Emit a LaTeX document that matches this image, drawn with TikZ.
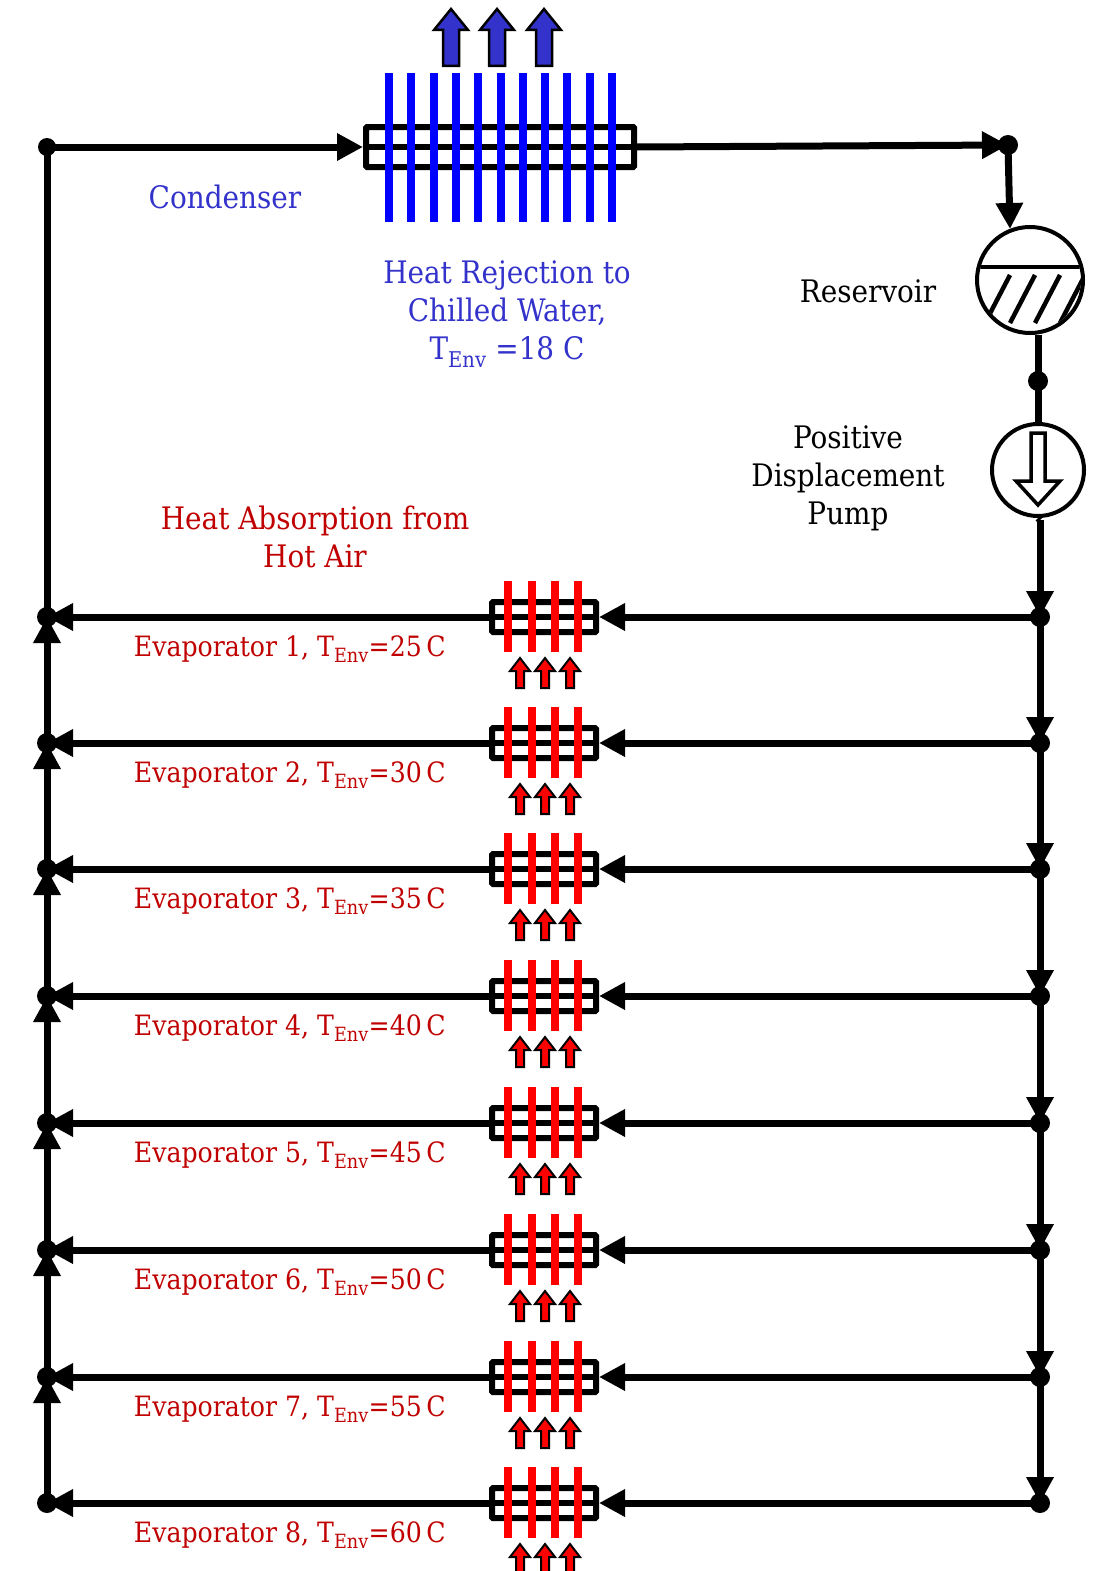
\documentclass[tikz,border=0pt]{standalone}
\usepackage{fontspec}
\setmainfont{DejaVu Serif Condensed}
\usetikzlibrary{arrows.meta,patterns}
\definecolor{cblue}{RGB}{51,51,204}
\definecolor{bbar}{RGB}{0,0,255}
\definecolor{dred}{RGB}{192,0,0}
\tikzset{
 pipe/.style={line width=7pt},
 tip/.style={-{Triangle[length=26pt 0,width=26pt 0]}},
 dot/.style={circle,fill=black,inner sep=0pt,minimum size=20pt},
 lbl/.style={font=\fontsize{28}{38}\selectfont,align=center,inner sep=0pt},
 big/.style={font=\fontsize{31}{38}\selectfont},
 hxbox/.style={draw,line width=6pt,inner sep=0pt,rounded corners=1pt},
}
\begin{document}
\begin{tikzpicture}[x=1pt,y=-1pt]
\useasboundingbox (0,0) rectangle (1101,1571);
% condenser
\node[hxbox,minimum width=268pt,minimum height=40pt] (cond) at (500,147) {};
\draw[line width=6pt] (cond.west) -- (cond.east);
\foreach \i in {0,...,10} \fill[bbar] ({389+22.3*\i-4},73) rectangle ({389+22.3*\i+4},222);
\foreach \x in {451,497,544}
 \draw[fill=cblue,line width=2.5pt,line join=miter] (\x-8,66) -- (\x-8,30) -- (\x-17,30) -- (\x,9) -- (\x+17,30) -- (\x+8,30) -- (\x+8,66) -- cycle;
\node[dot,minimum size=18pt] (tl) at (47,147) {};
\node[dot] (tr) at (1008,145) {};
\draw[pipe,tip] (tl.center) -- (cond.west);
\draw[pipe,tip] (cond.east) -- (tr.center);
% reservoir
\node[circle,draw,line width=4pt,minimum size=106pt,inner sep=0pt] (res) at (1030,280) {};
\begin{scope}
\clip (1030,280) circle (51);
\draw[line width=4pt] (970,267) -- (1090,267);
\foreach \k in {0,1,2,3} \draw[line width=4.5pt] ({985+25*\k},323) -- ({1010+25*\k},275);
\end{scope}
\draw[pipe,tip] (tr.center) -- (1010,229);
% pump
\node[dot,minimum size=20pt] (pd) at (1038,381) {};
\node[circle,draw,line width=4pt,minimum size=92pt,inner sep=0pt] (pump) at (1038,470) {};
\draw[pipe] (res.south) ++(8,0) -- (pd.center) -- (pump.north);
\draw[line width=3.5pt,line join=miter,fill=white] (1031,433) -- (1045,433) -- (1045,481) -- (1060,481) -- (1038,505) -- (1016,481) -- (1031,481) -- cycle;
% labels top
\node[lbl,big,text=cblue] at (225,197) {Condenser};
\node[lbl,big,text=cblue] at (507,314) {Heat Rejection to\\Chilled Water,\\T\textsubscript{Env} =18 C};
\node[lbl,big] at (868,291) {Reservoir};
\node[lbl,big] at (848,478) {Positive\\Displacement\\Pump};
\node[lbl,big,text=dred] at (315,537) {Heat Absorption from\\Hot Air};
% evaporators
\foreach \n/\y/\t in {1/617/25,2/743/30,3/869/35,4/996/40,5/1123/45,6/1250/50,7/1377/55,8/1503/60}{
 \node[dot] (R\n) at (1040,\y) {};
 \node[dot] (L\n) at (47,\y) {};
 \node[hxbox,minimum width=104pt,minimum height=30pt] (E\n) at (544,\y) {};
 \draw[line width=6pt] (E\n.west) -- (E\n.east);
 \foreach \x in {508,532,555,578} \fill[red] (\x-4,\y-36) rectangle (\x+4,\y+35);
 \foreach \x in {520,545,570}
  \draw[fill=red,line width=2pt,line join=miter] (\x-4,\y+71) -- (\x-4,\y+54) -- (\x-10,\y+54) -- (\x,\y+41) -- (\x+10,\y+54) -- (\x+4,\y+54) -- (\x+4,\y+71) -- cycle;
 \draw[pipe,tip] (R\n.center) -- (E\n.east);
 \draw[pipe,tip] (E\n.west) -- (L\n.center);
 \node[lbl,text=dred,anchor=east] at (446,\y+32) {Evaporator \n, T\textsubscript{Env}=\t\,C};
}
\draw[pipe] (pump.south) -- (1040,520);
\draw[pipe,tip] (1040,520) -- (R1.center);
\foreach \a/\b in {1/2,2/3,3/4,4/5,5/6,6/7,7/8}{
 \draw[pipe,tip] (R\a.center) -- (R\b.center);
 \draw[pipe,tip] (L\b.center) -- (L\a.center);
}
\draw[pipe] (L1.center) -- (tl.center);
\end{tikzpicture}
\end{document}
